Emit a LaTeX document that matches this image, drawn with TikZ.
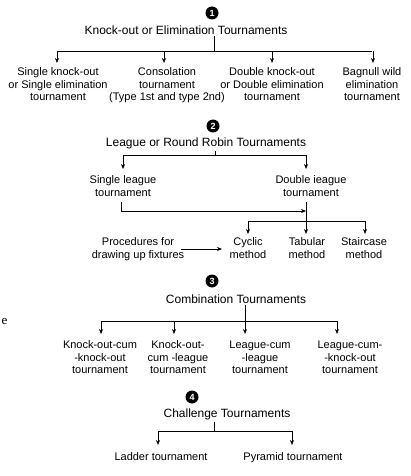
\documentclass[tikz,border=0pt]{standalone}
\usepackage{fontspec}
\setmainfont{Liberation Sans}
\newfontfamily\strayfont{Liberation Serif}
\usetikzlibrary{arrows.meta}
\begin{document}
\begin{tikzpicture}[x=1pt,y=-1pt,
  every node/.style={inner sep=0pt,outer sep=0pt},
  ttl/.style={font=\fontsize{12}{14}\selectfont},
  txt/.style={font=\fontsize{11}{12.5}\selectfont,align=center,anchor=north},
  num/.style={circle,fill=black,minimum size=13pt,text=white,font=\fontsize{9}{9}\bfseries\selectfont},
  conn/.style={line width=0.7pt},
  arr/.style={line width=0.7pt,-{Stealth[length=5pt,width=4pt]}}]
\useasboundingbox (0,0) rectangle (410,476);
% ---- 1
\node[num] (n1) at (212,13) {1};
\node[ttl] (t1) at (186,30) {Knock-out or Elimination Tournaments};
\coordinate (s1) at (214,51);
\node[txt] (a1) at (58,68) {Single knock-out\\or Single elimination\\tournament};
\node[txt] (a2) at (167,68) {Consolation\\tournament\\(Type 1st and type 2nd)};
\node[txt] (a3) at (272,68) {Double knock-out\\or Double elimination\\tournament};
\node[txt] (a4) at (372,68) {Bagnull wild\\elimination\\tournament};
\draw[conn] (s1 |- t1.south) ++(0,2) -- (s1);
\draw[conn] (a1.north |- s1) -- (a4.north |- s1);
\foreach \c/\x in {a1/57,a2/164,a3/272,a4/373}
  \draw[arr] (\x,51) -- (\x,63);
% ---- 2
\node[num] (n2) at (213,126) {2};
\node[ttl] (t2) at (206,143) {League or Round Robin Tournaments};
\coordinate (s2) at (215,155);
\node[txt] (b1) at (123,176) {Single league\\tournament};
\node[txt] (b2) at (311,176) {Double ieague\\tournament};
\draw[conn] (s2 |- t2.south) ++(0,2) -- (s2);
\draw[conn] (123,155) -- (306,155);
\draw[arr] (123,155) -- (123,169);
\draw[arr] (306,155) -- (306,169);
\coordinate (lk) at (306,211);
\draw[arr] (121,202) -- (121,211) -- (lk);
\node[txt] (c1) at (248,238) {Cyclic\\method};
\node[txt] (c2) at (307,238) {Tabular\\method};
\node[txt] (c3) at (364,238) {Staircase\\method};
\node[txt] (p) at (138,238) {Procedures for\\drawing up fixtures};
\draw[conn] (306,202) -- (306,221);
\draw[conn] (248,221) -- (365,221);
\draw[arr] (306,221) -- (306,234);
\draw[arr] (248,221) -- (248,234);
\draw[arr] (365,221) -- (365,234);
\draw[arr] (181,249) -- (222,249);
% ---- 3
\node[num] (n3) at (212,281) {3};
\node[ttl] (t3) at (236,299) {Combination Tournaments};
\coordinate (s3) at (245,321);
\node[txt] (d1) at (100,341) {Knock-out-cum\\-knock-out\\tournament};
\node[txt] (d2) at (178,341) {Knock-out-\\cum -league\\tournament};
\node[txt] (d3) at (260,341) {League-cum\\-league\\tournament};
\node[txt] (d4) at (350,341) {League-cum-\\-knock-out\\tournament};
\draw[conn] (s3 |- t3.south) ++(0,2) -- (s3);
\draw[conn] (101,321) -- (337,321);
\foreach \x in {101,174,245,337}
  \draw[arr] (\x,321) -- (\x,334);
% ---- 4
\node[num] (n4) at (192,397) {4};
\node[ttl] (t4) at (227,414) {Challenge Tournaments};
\coordinate (s4) at (214,431);
\node[txt] (e1) at (161,453) {Ladder tournament};
\node[txt] (e2) at (293,453) {Pyramid tournament};
\draw[conn] (s4 |- t4.south) ++(0,2) -- (s4);
\draw[conn] (158,431) -- (292,431);
\draw[arr] (158,431) -- (158,445);
\draw[arr] (292,431) -- (292,445);
% stray letter at the left edge
\node[font=\strayfont\fontsize{13}{13}\selectfont] (st) at (4.5,321) {e};
\end{tikzpicture}
\end{document}
